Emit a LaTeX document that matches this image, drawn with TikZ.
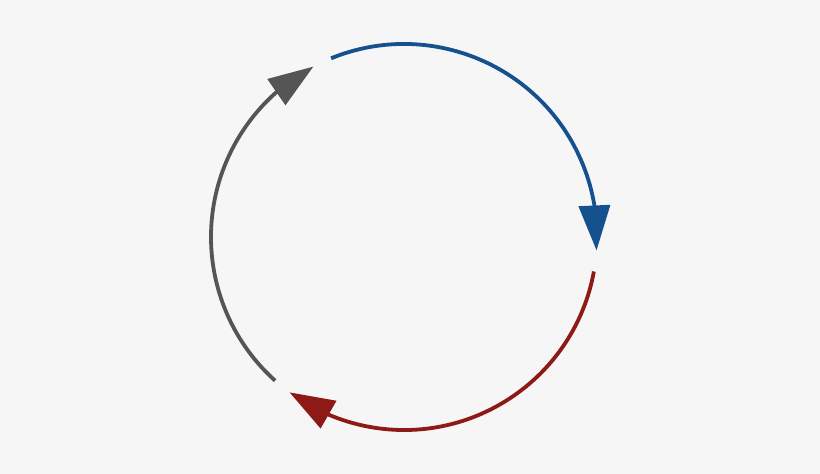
\documentclass[tikz,border=0pt]{standalone}
\usetikzlibrary{arrows.meta,bending,calc}

\definecolor{bgcol}{HTML}{F6F6F6}
\definecolor{cycblue}{HTML}{15508F}
\definecolor{cycred}{HTML}{8E1A17}
\definecolor{cycgray}{HTML}{555555}

\begin{document}
\begin{tikzpicture}[x=1pt,y=1pt,line width=3.8pt,
   cyc/.style={-{Triangle[length=45pt,width=31pt,flex]}}]
   \fill[bgcol] (0,0) rectangle (820,474);
   \coordinate (c) at (404,237);
   \coordinate (s_b) at ($(c)+(112.2:193)$);
   \coordinate (s_r) at ($(c)+(-10.3:193)$);
   \coordinate (s_g) at ($(c)+(228.1:193)$);
   \draw[cyc,cycblue] (s_b) arc[start angle=112.2,end angle=-4.0,radius=193];
   \draw[cyc,cycred]  (s_r) arc[start angle=-10.3,end angle=-126.4,radius=193];
   \draw[cyc,cycgray] (s_g) arc[start angle=228.1,end angle=118.0,radius=193];
\end{tikzpicture}
\end{document}
